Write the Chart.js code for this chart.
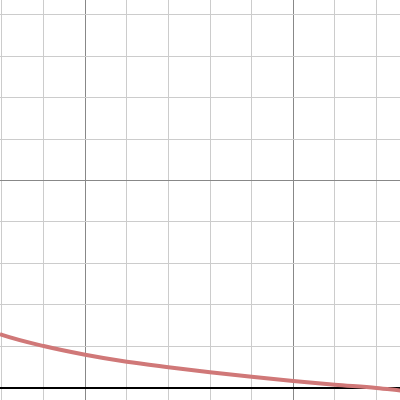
<!DOCTYPE html>
<html>
<head>
<meta charset="UTF-8" />
<script src="https://cdn.jsdelivr.net/npm/chart.js"></script>
<style>html,body{margin:0;padding:0;background:#fff}</style>
</head>
<body>
<div style="width:400px;height:400px"><canvas id="c"></canvas></div>
<script>
// curve samples (grid units)
const xs = [-0.05, 0, 1, 2, 3, 4, 5, 6, 7, 8, 9, 9.57];
const ys = [1.30, 1.28, 1.01, 0.80, 0.63, 0.50, 0.38, 0.27, 0.17, 0.08, 0.00, -0.06];
const xGrid = [0, 1, 2, 3, 4, 5, 6, 7, 8, 9];
const yGrid = [0, 1, 2, 3, 4, 5, 6, 7, 8, 9];
const xMajor = [2, 7];
const yMajor = [5];

function gridOpts(major) {
  return {
    drawTicks: false,
    color: c => c.tick && c.tick.value === 0 && major === yMajor ? '#000' : (c.tick && major.includes(c.tick.value) ? '#888' : '#ccc'),
    lineWidth: c => c.tick && c.tick.value === 0 && major === yMajor ? 2 : 1
  };
}

new Chart(document.getElementById('c'), {
  type: 'scatter',
  data: {
    datasets: [{
      data: xs.map((x, i) => ({x: x, y: ys[i]})),
      showLine: true,
      borderColor: '#d07878',
      borderWidth: 4,
      pointRadius: 0,
      cubicInterpolationMode: 'monotone'
    }]
  },
  options: {
    responsive: true,
    maintainAspectRatio: false,
    animation: false,
    layout: {padding: 0},
    plugins: {legend: {display: false}, tooltip: {enabled: false}},
    scales: {
      x: {
        type: 'linear', min: -0.048, max: 9.567,
        afterBuildTicks: a => { a.ticks = xGrid.map(v => ({value: v})); },
        ticks: {display: false},
        border: {display: false},
        grid: gridOpts(xMajor)
      },
      y: {
        type: 'linear', min: -0.29, max: 9.35,
        afterBuildTicks: a => { a.ticks = yGrid.map(v => ({value: v})); },
        ticks: {display: false},
        border: {display: false},
        grid: gridOpts(yMajor)
      }
    }
  }
});
</script>
</body>
</html>
